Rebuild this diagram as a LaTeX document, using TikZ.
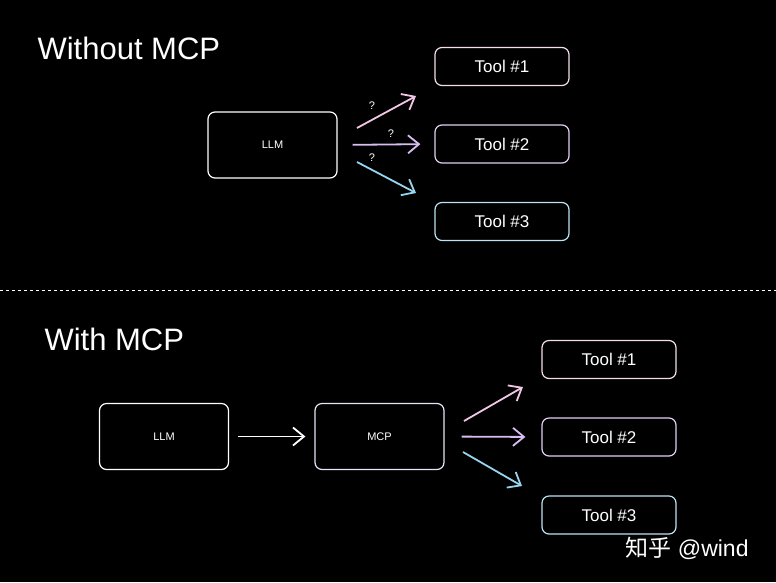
\documentclass[tikz,border=0pt]{standalone}
\usepackage{fontspec}
\setmainfont{Liberation Sans}
\newfontfamily\cjk{Noto Sans CJK SC}
\usetikzlibrary{arrows.meta}
\definecolor{pinkc}{HTML}{F2C6E6}
\definecolor{lavc}{HTML}{D9BDF2}
\definecolor{bluec}{HTML}{98D4F0}
\definecolor{tone}{HTML}{F4DCEC}
\definecolor{ttwo}{HTML}{E4CFF4}
\definecolor{tthree}{HTML}{BCE2F4}
\definecolor{mcpc}{HTML}{E2E6F6}
\tikzset{
  box/.style={draw, rounded corners=7pt, line width=1.2pt, fill=black, text=white, font=\fontsize{11}{13}\selectfont},
  bigbox/.style={box, minimum width=129pt, minimum height=66pt},
  toolbox/.style={box, minimum width=134pt, minimum height=38pt, font=\fontsize{17}{19}\selectfont},
  arr/.style={line width=1.8pt, -{Straight Barb[length=11pt,width=18pt,line width=1.8pt]}},
  qm/.style={text=white, font=\fontsize{11}{13}\selectfont},
  heading/.style={text=white, anchor=west, font=\fontsize{31}{34}\selectfont}
}
\begin{document}
\begin{tikzpicture}[x=1pt,y=-1pt]
\fill[black] (0,0) rectangle (776,582);
\useasboundingbox (0,0) rectangle (776,582);

% ---------- Without MCP ----------
\node[heading] (h1) at (34,48) {Without MCP};
\node[bigbox, draw=white] (llm1) at (272.5,145) {LLM};
\node[toolbox, draw=tone] (t11) at (502,66.5) {Tool \#1};
\node[toolbox, draw=ttwo] (t12) at (502,144) {Tool \#2};
\node[toolbox, draw=tthree] (t13) at (502,221.5) {Tool \#3};

\coordinate (a1s) at (357,128);
\coordinate (a1e) at (416,96);
\coordinate (a3s) at (357,162);
\coordinate (a3e) at (416,193);
\draw[arr, pinkc] (a1s) -- (a1e);
\draw[arr, lavc, shorten <=15pt, shorten >=14pt] (llm1.east) -- (t12.west);
\draw[arr, bluec] (a3s) -- (a3e);
\node[qm] (q1) at (372,106) {?};
\node[qm] (q2) at (391,134) {?};
\node[qm] (q3) at (372,158) {?};

% ---------- separator ----------
\draw[white, line width=1pt, dash pattern=on 3pt off 3pt] (0,290) coordinate (s1) -- (776,290) coordinate (s2);

% ---------- With MCP ----------
\node[heading] (h2) at (41,339) {With MCP};
\node[bigbox, draw=white] (llm2) at (164,436.5) {LLM};
\node[bigbox, draw=mcpc] (mcp) at (379.5,436.5) {MCP};
\node[toolbox, draw=tone] (t21) at (609,359.5) {Tool \#1};
\node[toolbox, draw=ttwo] (t22) at (609,437) {Tool \#2};
\node[toolbox, draw=tthree] (t23) at (609,515) {Tool \#3};

\draw[arr, white, shorten <=9pt, shorten >=9pt] (llm2.east) -- (mcp.west);
\coordinate (b1s) at (464,421);
\coordinate (b1e) at (523,387);
\coordinate (b3s) at (463,452);
\coordinate (b3e) at (522,486);
\draw[arr, pinkc] (b1s) -- (b1e);
\draw[arr, lavc, shorten <=17pt, shorten >=16pt] (mcp.east) -- (t22.west);
\draw[arr, bluec] (b3s) -- (b3e);

% ---------- watermark ----------
\node[text=white, anchor=west, font=\fontsize{23}{26}\selectfont] (wm) at (622,548) {{\cjk 知乎} @wind};
\end{tikzpicture}
\end{document}
